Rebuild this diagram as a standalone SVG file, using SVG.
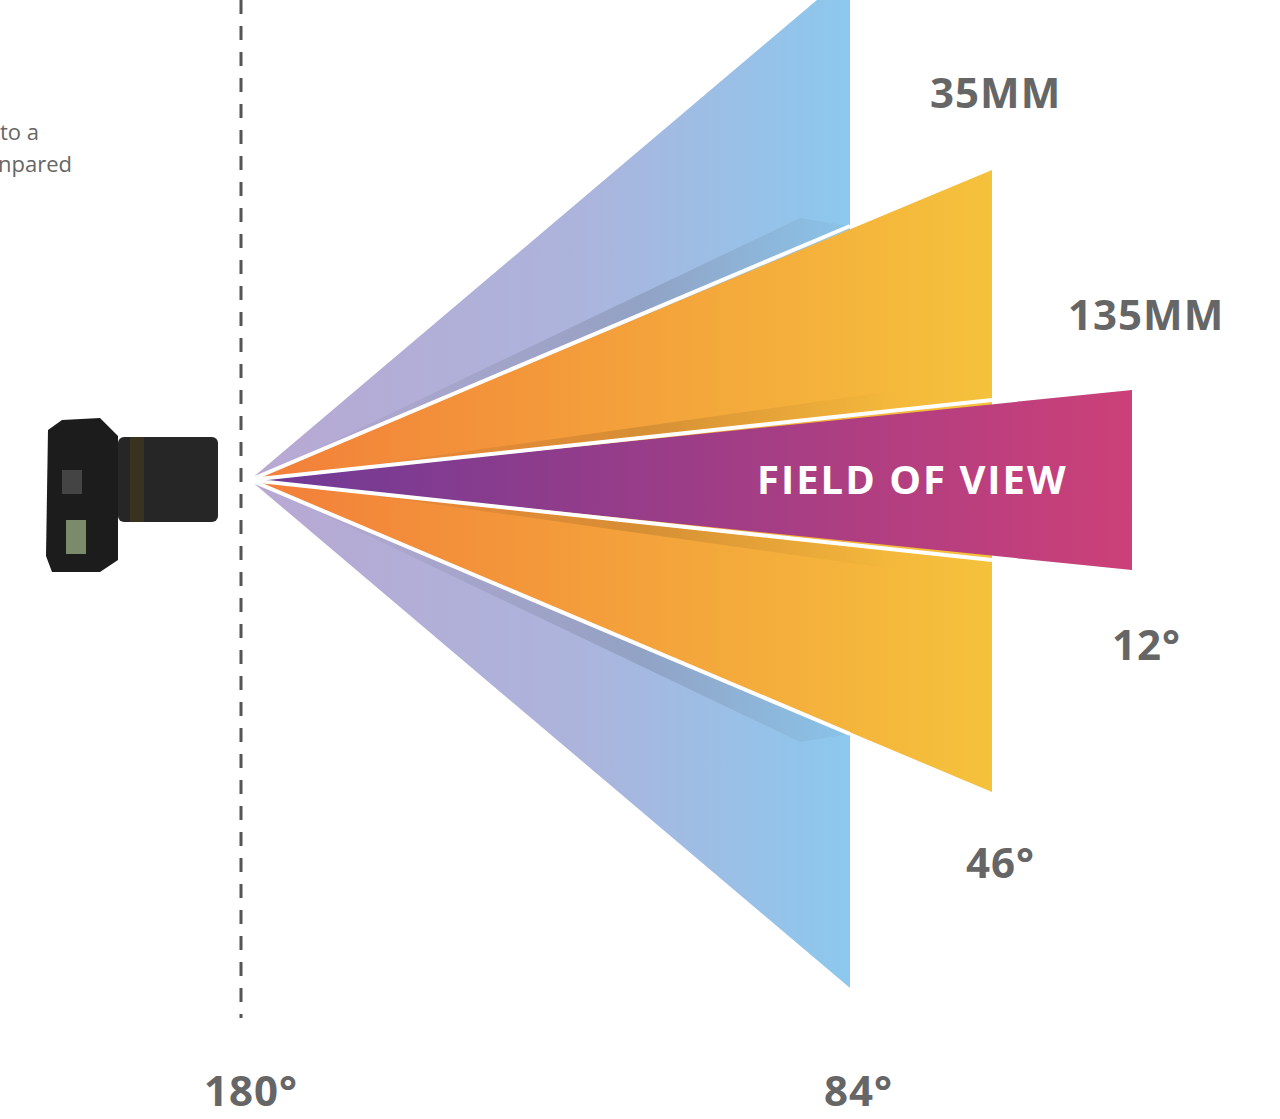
<svg xmlns="http://www.w3.org/2000/svg" width="1280" height="1119" viewBox="0 0 1280 1119">
<defs>
<linearGradient id="gb" x1="250" y1="0" x2="850" y2="0" gradientUnits="userSpaceOnUse"><stop offset="0" stop-color="#b8a8d2"/><stop offset="0.55" stop-color="#acb4dc"/><stop offset="1" stop-color="#8cc8ee"/></linearGradient>
<linearGradient id="go" x1="250" y1="0" x2="992" y2="0" gradientUnits="userSpaceOnUse"><stop offset="0" stop-color="#f27e3a"/><stop offset="1" stop-color="#f5c23c"/></linearGradient>
<linearGradient id="gm" x1="250" y1="0" x2="1132" y2="0" gradientUnits="userSpaceOnUse"><stop offset="0" stop-color="#6e3a96"/><stop offset="1" stop-color="#cc4078"/></linearGradient>
<linearGradient id="sh" x1="250" y1="0" x2="900" y2="0" gradientUnits="userSpaceOnUse"><stop offset="0" stop-color="#000" stop-opacity="0"/><stop offset="0.6" stop-color="#000" stop-opacity="0.12"/><stop offset="1" stop-color="#000" stop-opacity="0"/></linearGradient>
<style>
.lbl{font-family:"Open Sans","Liberation Sans",sans-serif;font-weight:700;fill:#666;font-size:42px;letter-spacing:1px}
.sm{font-family:"Open Sans","Liberation Sans",sans-serif;fill:#666;font-size:22px}
.sep{fill:none;stroke:#fff;stroke-width:4}
</style>
</defs>
<rect width="1280" height="1119" fill="#fff"/>
<text class="sm" x="0" y="140">to a</text>
<text class="sm" x="-2" y="172">npared</text>
<line x1="241" y1="0" x2="241" y2="1018" stroke="#555" stroke-width="3" stroke-dasharray="14 12"/>
<g id="camera">
<path d="M48 430 L62 420 L100 418 L118 436 L118 560 L100 572 L52 572 L46 556 Z" fill="#1c1c1c"/>
<rect x="118" y="437" width="100" height="85" rx="6" fill="#262626"/>
<rect x="130" y="437" width="14" height="85" fill="#3a3220"/>
<rect x="62" y="470" width="20" height="24" fill="#444"/>
<rect x="66" y="520" width="20" height="34" fill="#7a8a6a"/>
</g>
<g id="wedges">
<polygon points="250,480 850,-28 850,988" fill="url(#gb)"/>
<polygon points="250,480 992,170 992,792" fill="url(#go)"/>
<polygon points="250,480 1132,390 1132,570" fill="url(#gm)"/>
<polygon points="260,476 800,218 850,226" fill="url(#sh)"/>
<polygon points="260,484 800,742 850,734" fill="url(#sh)"/>
<polygon points="270,479 900,390 960,400" fill="url(#sh)"/>
<polygon points="270,481 900,570 960,560" fill="url(#sh)"/>
<polyline class="sep" points="850,226 250,480 850,734"/>
<polyline class="sep" points="992,400 250,480 992,560"/>
</g>
<text class="lbl" x="930" y="108">35MM</text>
<text class="lbl" x="1068" y="330">135MM</text>
<text x="757" y="494" font-family="Open Sans, Liberation Sans, sans-serif" font-weight="700" font-size="40" letter-spacing="2" fill="#fff">FIELD OF VIEW</text>
<text class="lbl" x="1112" y="660">12°</text>
<text class="lbl" x="966" y="878">46°</text>
<text class="lbl" x="204" y="1106">180°</text>
<text class="lbl" x="824" y="1106">84°</text>
</svg>
